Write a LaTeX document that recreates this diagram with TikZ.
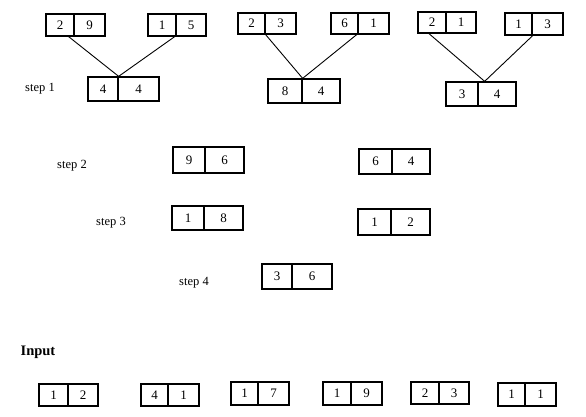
\documentclass[tikz,border=0pt]{standalone}
\usepackage{fontspec}
\setmainfont{Liberation Serif}

\begin{document}
\begin{tikzpicture}[x=1pt, y=-1pt,
    cell/.style 2 args={draw, line width=1.3pt, inner sep=0pt, minimum width=#1pt, minimum height=#2pt, font=\fontsize{13}{15}\selectfont},
    steplabel/.style={inner sep=0pt, font=\fontsize{12.5}{15}\selectfont},
    link/.style={line width=0.9pt}]
    \useasboundingbox (0,0) rectangle (586,416);

    % top pairs
    \node[cell={28}{22}] (q1l) at (60,25) {2};
    \node[cell={31}{22}] (q1r) at (89.5,25) {9};
    \node[cell={28}{22}] (q2l) at (162,25) {1};
    \node[cell={30}{22}] (q2r) at (191,25) {5};

    \node[cell={27}{21}] (q3l) at (251.5,23.5) {2};
    \node[cell={31}{21}] (q3r) at (280.5,23.5) {3};
    \node[cell={27}{21}] (q4l) at (344.5,23.5) {6};
    \node[cell={31}{21}] (q4r) at (373.5,23.5) {1};

    \node[cell={28}{21}] (q5l) at (432,22.5) {2};
    \node[cell={30}{21}] (q5r) at (461,22.5) {1};
    \node[cell={27}{22}] (q6l) at (518.5,24) {1};
    \node[cell={31}{22}] (q6r) at (547.5,24) {3};

    % step 1
    \node[cell={30}{24}] (r1l) at (103,89) {4};
    \node[cell={41}{24}] (r1r) at (138.5,89) {4};
    \node[cell={34}{24}] (r2l) at (285,91) {8};
    \node[cell={38}{24}] (r2r) at (321,91) {4};
    \node[cell={32}{24}] (r3l) at (462,94) {3};
    \node[cell={38}{24}] (r3r) at (497,94) {4};

    \draw[link] ([xshift=-6pt]q1l.south east) -- (r1l.north east);
    \draw[link] ([xshift=-2pt]q2l.south east) -- (r1l.north east);
    \draw[link] (q3l.south east) -- (r2l.north east);
    \draw[link] ([xshift=-2pt]q4l.south east) -- (r2l.north east);
    \draw[link] ([xshift=-3pt]q5l.south) -- ([xshift=6pt]r3l.north east);
    \draw[link] (q6l.south east) -- ([xshift=6pt]r3l.north east);

    % step 2
    \node[cell={32}{26}] (t1l) at (189,160) {9};
    \node[cell={39}{26}] (t1r) at (224.5,160) {6};
    \node[cell={33}{25}] (t2l) at (375.5,161.5) {6};
    \node[cell={38}{25}] (t2r) at (411,161.5) {4};

    % step 3
    \node[cell={32}{24}] (w1l) at (188,218) {1};
    \node[cell={39}{24}] (w1r) at (223.5,218) {8};
    \node[cell={33}{26}] (w2l) at (374.5,222) {1};
    \node[cell={39}{26}] (w2r) at (410.5,222) {2};

    % step 4
    \node[cell={30}{25}] (zl) at (277,276.5) {3};
    \node[cell={40}{25}] (zr) at (312,276.5) {6};

    % input
    \node[cell={29}{22}] (in1l) at (53.5,395) {1};
    \node[cell={30}{22}] (in1r) at (83,395) {2};
    \node[cell={27}{22}] (in2l) at (154.5,395) {4};
    \node[cell={31}{22}] (in2r) at (183.5,395) {1};
    \node[cell={27}{23}] (in3l) at (244.5,393.5) {1};
    \node[cell={31}{23}] (in3r) at (273.5,393.5) {7};
    \node[cell={28}{23}] (in4l) at (337,393.5) {1};
    \node[cell={31}{23}] (in4r) at (366.5,393.5) {9};
    \node[cell={28}{22}] (in5l) at (425,393) {2};
    \node[cell={30}{22}] (in5r) at (454,393) {3};
    \node[cell={27}{23}] (in6l) at (511.5,394.5) {1};
    \node[cell={31}{23}] (in6r) at (540.5,394.5) {1};

    \node[steplabel] (lab1) at (40,89) {step 1};
    \node[steplabel] (lab2) at (72,166) {step 2};
    \node[steplabel] (lab3) at (111,223) {step 3};
    \node[steplabel] (lab4) at (194,283) {step 4};
    \node[inner sep=0pt, font=\fontsize{14.5}{17}\selectfont\bfseries] (labin) at (38,352) {Input};

\end{tikzpicture}
\end{document}
